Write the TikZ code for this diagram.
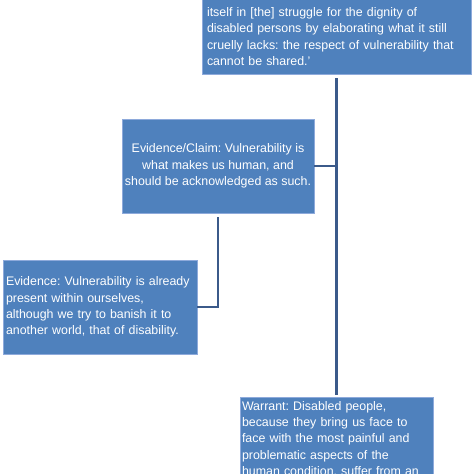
\documentclass[tikz,border=0pt]{standalone}
\usepackage{fontspec}
\setmainfont{Liberation Sans}
\usepackage{xcolor}
\usepackage{tikz}
\usetikzlibrary{positioning, calc}
\definecolor{boxblue}{HTML}{4F81BD}
\definecolor{boxedge}{HTML}{8EAADB}
\definecolor{linkblue}{HTML}{3B5A8A}
\tikzstyle{argbox} = [rectangle, draw=boxedge, line width=0.8pt, fill=boxblue,
                      text=white, font=\fontsize{12.4}{16.3}\selectfont\frenchspacing,
                      inner xsep=5pt, inner ysep=4pt]
\tikzstyle{link}   = [draw=linkblue, line width=2.6pt]

\begin{document}
\begin{tikzpicture}[x=1pt, y=-1pt]
  \useasboundingbox (0,0) rectangle (474,474);
  \fill[white] (0,0) rectangle (474,474);
  \clip (0,0) rectangle (474,474);

  \node[argbox, anchor=south, minimum width=269pt, minimum height=76pt,
        text width=259pt, align=left] (quote) at (336.5,75)
    {itself in [the] struggle for the dignity of\\
     disabled persons by elaborating what it still\\
     cruelly lacks: the respect of vulnerability that\\
     cannot be shared.'};

  \node[argbox, minimum width=192pt, minimum height=94pt,
        inner xsep=0pt, align=center] (claim) at (218,166)
    {Evidence/Claim: Vulnerability is\\
     what makes us human, and\\
     should be acknowledged as such.};

  \node[argbox, minimum width=194pt, minimum height=94pt,
        text width=188pt, inner xsep=3pt, align=left] (evidence) at (100,307)
    {Evidence: Vulnerability is already\\
     present within ourselves,\\
     although we try to banish it to\\
     another world, that of disability.};

  \node[argbox, anchor=north, minimum width=193pt, text width=189pt,
        inner xsep=2pt, align=left] (warrant) at (336.5,397)
    {Warrant: Disabled people,\\
     because they bring us face to\\
     face with the most painful and\\
     problematic aspects of the\\
     human condition, suffer from an};

  \draw[link] ([yshift=-3pt]quote.south) -- ([yshift=2pt]warrant.north);
  \draw[link] (claim.east) -- (claim.east -| quote.south);
  \draw[link] ([yshift=-4pt]claim.south) |- (evidence.east);
\end{tikzpicture}
\end{document}
